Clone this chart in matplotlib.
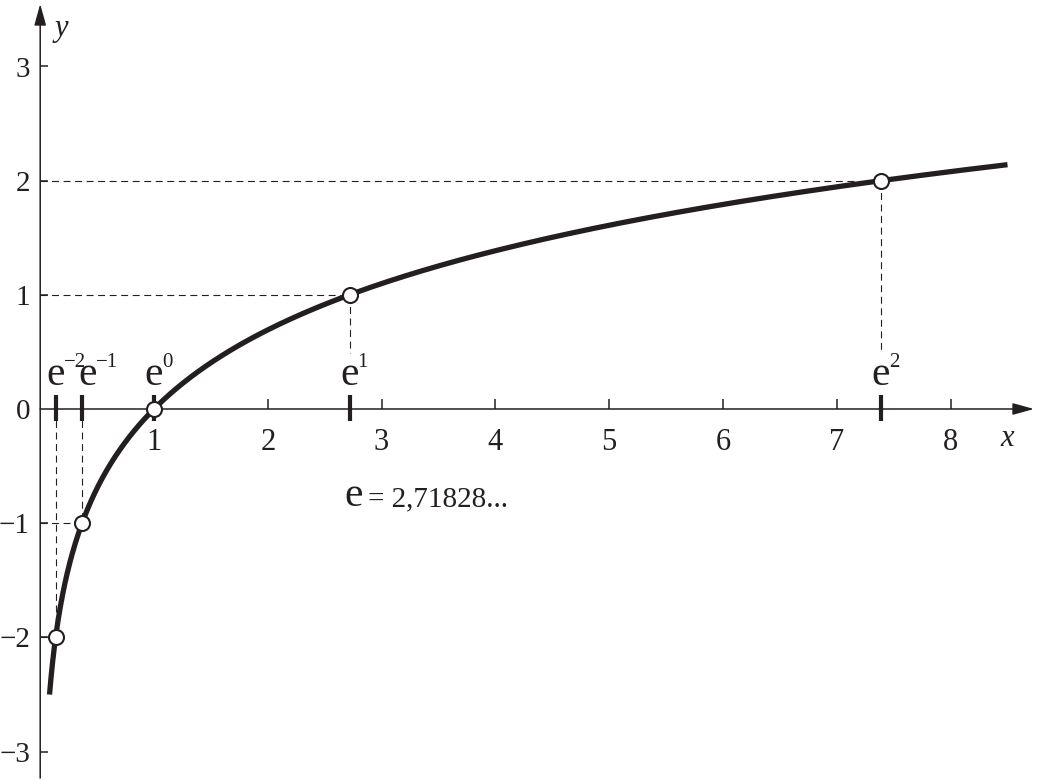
import numpy as np
import matplotlib.pyplot as plt
from matplotlib.patches import FancyArrowPatch

plt.rcParams['font.family'] = ['Liberation Serif', 'DejaVu Serif']
plt.rcParams['lines.scale_dashes'] = False

# ---- data ----
powers = [-2, -1, 0, 1, 2]                      # points (e^k, k)
power_labels = ['−2', '−1', '0', '1', '2']
x_ticks = [1, 2, 3, 4, 5, 6, 7, 8]
x_tick_labels = ['1', '2', '3', '4', '5', '6', '7', '8']
y_ticks = [-3, -2, -1, 0, 1, 2, 3]
y_tick_labels = ['−3', '−2', '−1', '0', '1', '2', '3']
curve_x_start, curve_x_end = 0.082, 8.5
note_value = '= 2,71828...'

INK = '#231f20'
W, H = 1037, 780
x0_px, x_unit = 40.2, 113.8
y0_px, y_unit = 409.0, 114.17

fig = plt.figure(figsize=(W / 100, H / 100), dpi=100)
ax = fig.add_axes([0, 0, 1, 1])
ax.set_xlim(-x0_px / x_unit, (W - x0_px) / x_unit)
ax.set_ylim((y0_px - H) / y_unit, y0_px / y_unit)
ax.axis('off')


def px_x(p):
    return (p - x0_px) / x_unit


def px_y(p):
    return (y0_px - p) / y_unit


# ---- axes with arrows ----
arrow_style = '-|>,head_length=13,head_width=3.6'
ax.add_patch(FancyArrowPatch((0, px_y(778)), (0, px_y(4)), arrowstyle=arrow_style,
                             mutation_scale=1, lw=1.1, color=INK, shrinkA=0, shrinkB=0, zorder=2))
ax.add_patch(FancyArrowPatch((0, 0), (px_x(1034), 0), arrowstyle=arrow_style,
                             mutation_scale=1, lw=1.1, color=INK, shrinkA=0, shrinkB=0, zorder=2))

# thin ticks
yt = [t for t in y_ticks if t != 0]
ax.hlines(yt, 0, px_x(48), color=INK, lw=1.1, zorder=2)
ax.vlines(x_ticks, 0, px_y(399.5), color=INK, lw=1.1, zorder=2)

# thick ticks at e^k
ek = np.exp(powers)
ax.vlines(ek, px_y(421), px_y(395), color=INK, lw=3.0, zorder=3)

# dashed guide lines
label_top = px_y(353)
for k, xv in zip(powers, ek):
    if k == 0:
        continue
    ax.plot([0, xv], [k, k], color=INK, lw=0.8, dashes=(5, 3.3), zorder=1)
    if k < 0:
        ax.plot([xv, xv], [0, k], color=INK, lw=0.8, dashes=(5, 3.3), zorder=1)
    else:
        ax.plot([xv, xv], [k, label_top], color=INK, lw=0.8, dashes=(5, 3.3), zorder=1)

# curve y = ln x
xs = np.geomspace(curve_x_start, curve_x_end, 600)
ax.plot(xs, np.log(xs), color=INK, lw=3.8, solid_capstyle='butt', zorder=4)

# points
ax.plot(ek, powers, 'o', ms=10.8, mfc='white', mec=INK, mew=1.5, zorder=5)

# ---- labels ----
TICK_FS = 22
for t, lab in zip(x_ticks, x_tick_labels):
    ax.text(t, px_y(450), lab, ha='center', va='baseline', fontsize=TICK_FS, color=INK)
for t, lab in zip(y_ticks, y_tick_labels):
    ax.annotate(lab, (px_x(30), t), xytext=(0, -7.3), textcoords='offset points',
                ha='right', va='baseline', fontsize=21, color=INK)

ax.text(px_x(1007), px_y(446), 'x', ha='center', va='baseline', fontsize=TICK_FS,
        style='italic', color=INK)
ax.text(px_x(61), px_y(36), 'y', ha='center', va='baseline', fontsize=TICK_FS,
        style='italic', color=INK)

E_FS = 30
SUP_FS = 15
label_nudge_pt = [0, 4.0, 0, 0, 0]
for xv, lab, nd in zip(ek, power_labels, label_nudge_pt):
    ax.annotate('e', (xv, px_y(385)), xytext=(nd, 0), textcoords='offset points',
                ha='center', va='baseline', fontsize=E_FS, color=INK)
    ax.annotate(lab, (xv, px_y(385)), xytext=(nd + 5.8, 13.0), textcoords='offset points',
                ha='left', va='baseline', fontsize=SUP_FS, color=INK)

ax.text(px_x(344), px_y(506), 'e', ha='left', va='baseline', fontsize=E_FS, color=INK)
ax.text(px_x(368), px_y(506), note_value, ha='left', va='baseline', fontsize=21, color=INK)

fig.savefig('out.png', dpi=100)
